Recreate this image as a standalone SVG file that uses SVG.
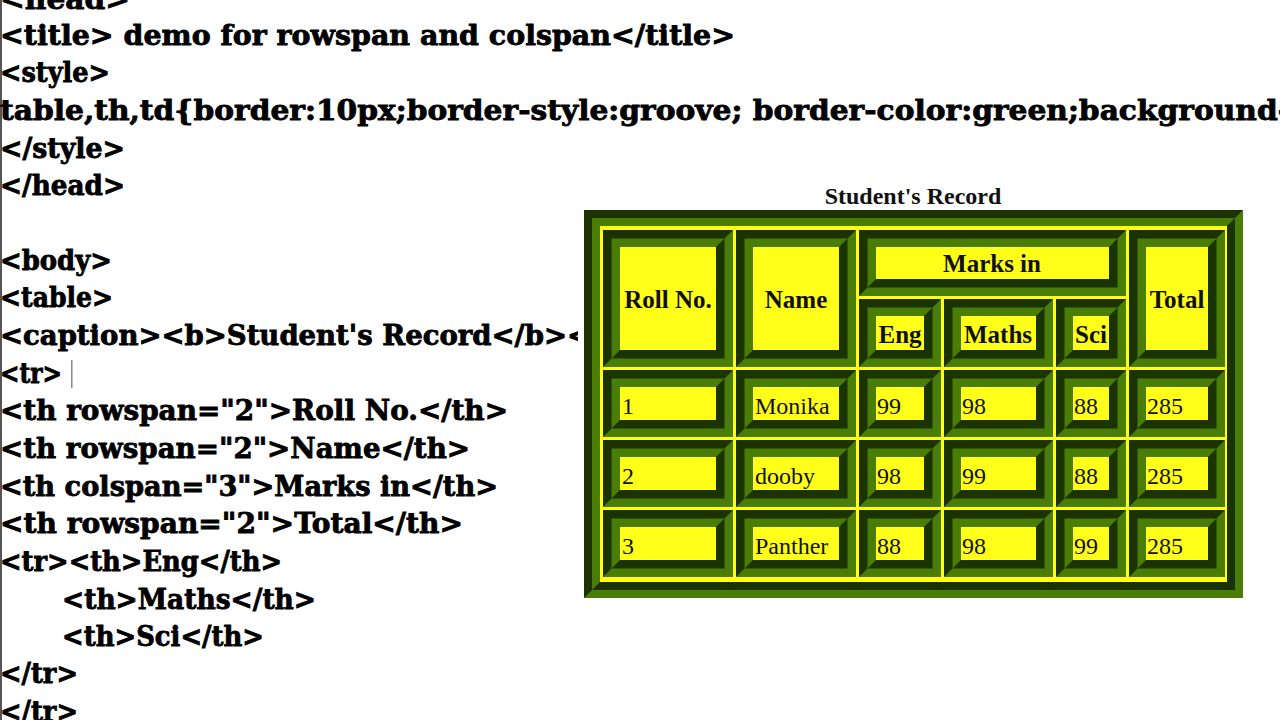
<svg xmlns="http://www.w3.org/2000/svg" width="1280" height="720" viewBox="0 0 1280 720">
<style>
.c{font-family:"DejaVu Serif","Liberation Serif",serif;font-weight:900;font-size:27px;fill:#000;stroke:#000;stroke-width:0.8px}
.h{font-family:"Liberation Serif",serif;font-weight:bold;font-size:25px;fill:#111}
.t{font-family:"Liberation Serif",serif;font-weight:bold;font-size:24px;fill:#111}
.d{font-family:"Liberation Serif",serif;font-size:24px;fill:#111}
.g{fill:#4a7d06}.k{fill:#1a3300}.y{fill:#ffff1a}
</style>
<rect width="1280" height="720" fill="#fff"/>
<rect x="0" y="0" width="2" height="720" fill="#555"/>
<g id="code">
<text class="c" x="0" y="9" textLength="130" lengthAdjust="spacingAndGlyphs">&lt;head&gt;</text>
<text class="c" x="0" y="45" textLength="735" lengthAdjust="spacingAndGlyphs">&lt;title&gt; demo for rowspan and colspan&lt;/title&gt;</text>
<text class="c" x="0" y="82" textLength="110" lengthAdjust="spacingAndGlyphs">&lt;style&gt;</text>
<text class="c" x="0" y="120" textLength="1290" lengthAdjust="spacingAndGlyphs">table,th,td{border:10px;border-style:groove; border-color:green;background-</text>
<text class="c" x="0" y="158" textLength="125" lengthAdjust="spacingAndGlyphs">&lt;/style&gt;</text>
<text class="c" x="0" y="195" textLength="125" lengthAdjust="spacingAndGlyphs">&lt;/head&gt;</text>
<text class="c" x="0" y="270" textLength="112" lengthAdjust="spacingAndGlyphs">&lt;body&gt;</text>
<text class="c" x="0" y="307" textLength="113" lengthAdjust="spacingAndGlyphs">&lt;table&gt;</text>
<text class="c" x="0" y="345" textLength="590" lengthAdjust="spacingAndGlyphs">&lt;caption&gt;&lt;b&gt;Student's Record&lt;/b&gt;&lt;</text>
<text class="c" x="0" y="383" textLength="62" lengthAdjust="spacingAndGlyphs">&lt;tr&gt;</text>
<rect x="71" y="360" width="1.5" height="28" fill="#888"/>
<text class="c" x="0" y="420" textLength="508" lengthAdjust="spacingAndGlyphs">&lt;th rowspan="2"&gt;Roll No.&lt;/th&gt;</text>
<text class="c" x="0" y="458" textLength="470" lengthAdjust="spacingAndGlyphs">&lt;th rowspan="2"&gt;Name&lt;/th&gt;</text>
<text class="c" x="0" y="496" textLength="498" lengthAdjust="spacingAndGlyphs">&lt;th colspan="3"&gt;Marks in&lt;/th&gt;</text>
<text class="c" x="0" y="533" textLength="463" lengthAdjust="spacingAndGlyphs">&lt;th rowspan="2"&gt;Total&lt;/th&gt;</text>
<text class="c" x="0" y="571" textLength="282" lengthAdjust="spacingAndGlyphs">&lt;tr&gt;&lt;th&gt;Eng&lt;/th&gt;</text>
<text class="c" x="62" y="609" textLength="254" lengthAdjust="spacingAndGlyphs">&lt;th&gt;Maths&lt;/th&gt;</text>
<text class="c" x="62" y="646" textLength="202" lengthAdjust="spacingAndGlyphs">&lt;th&gt;Sci&lt;/th&gt;</text>
<text class="c" x="0" y="683" textLength="78" lengthAdjust="spacingAndGlyphs">&lt;/tr&gt;</text>
<text class="c" x="0" y="721" textLength="78" lengthAdjust="spacingAndGlyphs">&lt;/tr&gt;</text>
</g>
<rect x="578" y="172" width="702" height="440" fill="#fff"/>
<text class="t" x="913" y="204" text-anchor="middle">Student's Record</text>
<g id="table">
<rect x="584" y="210" width="659" height="388" class="g"/>
<polygon class="k" points="584,210 1243,210 1235,218 592,218 592,590 584,598"/>
<polygon class="k" points="1235,218 1227,226 1227,582 600,582 592,590 1235,590"/>
<rect x="600" y="226" width="627" height="356" class="y"/>
</g>
<g id="header">
<g id="c-roll"><rect x="603" y="230" width="130" height="137" class="g"/><polygon class="k" points="603,230 733,230 724.5,238.5 611.5,238.5 611.5,358.5 603,367"/><polygon class="k" points="724.5,238.5 716,247 716,350 620,350 611.5,358.5 724.5,358.5"/><rect x="620" y="247" width="96" height="103" class="y"/><text class="h" x="668" y="308" text-anchor="middle">Roll No.</text></g>
<g id="c-name"><rect x="736" y="230" width="120" height="137" class="g"/><polygon class="k" points="736,230 856,230 847.5,238.5 744.5,238.5 744.5,358.5 736,367"/><polygon class="k" points="847.5,238.5 839,247 839,350 753,350 744.5,358.5 847.5,358.5"/><rect x="753" y="247" width="86" height="103" class="y"/><text class="h" x="796" y="308" text-anchor="middle">Name</text></g>
<g id="c-marks"><rect x="859" y="230" width="267" height="66" class="g"/><polygon class="k" points="859,230 1126,230 1117.5,238.5 867.5,238.5 867.5,287.5 859,296"/><polygon class="k" points="1117.5,238.5 1109,247 1109,279 876,279 867.5,287.5 1117.5,287.5"/><rect x="876" y="247" width="233" height="32" class="y"/><text class="h" x="992" y="272" text-anchor="middle">Marks in</text></g>
<g id="c-total"><rect x="1129" y="230" width="96" height="137" class="g"/><polygon class="k" points="1129,230 1225,230 1216.5,238.5 1137.5,238.5 1137.5,358.5 1129,367"/><polygon class="k" points="1216.5,238.5 1208,247 1208,350 1146,350 1137.5,358.5 1216.5,358.5"/><rect x="1146" y="247" width="62" height="103" class="y"/><text class="h" x="1177" y="308" text-anchor="middle">Total</text></g>
<g id="c-eng"><rect x="859" y="299" width="82" height="68" class="g"/><polygon class="k" points="859,299 941,299 932.5,307.5 867.5,307.5 867.5,358.5 859,367"/><polygon class="k" points="932.5,307.5 924,316 924,350 876,350 867.5,358.5 932.5,358.5"/><rect x="876" y="316" width="48" height="34" class="y"/><text class="h" x="900" y="343" text-anchor="middle">Eng</text></g>
<g id="c-maths"><rect x="944" y="299" width="109" height="68" class="g"/><polygon class="k" points="944,299 1053,299 1044.5,307.5 952.5,307.5 952.5,358.5 944,367"/><polygon class="k" points="1044.5,307.5 1036,316 1036,350 961,350 952.5,358.5 1044.5,358.5"/><rect x="961" y="316" width="75" height="34" class="y"/><text class="h" x="998" y="343" text-anchor="middle">Maths</text></g>
<g id="c-sci"><rect x="1056" y="299" width="70" height="68" class="g"/><polygon class="k" points="1056,299 1126,299 1117.5,307.5 1064.5,307.5 1064.5,358.5 1056,367"/><polygon class="k" points="1117.5,307.5 1109,316 1109,350 1073,350 1064.5,358.5 1117.5,358.5"/><rect x="1073" y="316" width="36" height="34" class="y"/><text class="h" x="1091" y="343" text-anchor="middle">Sci</text></g>
</g>
<defs>
<g id="row">
<rect x="603" y="0" width="130" height="67" class="g"/><polygon class="k" points="603,0 733,0 724.5,8.5 611.5,8.5 611.5,58.5 603,67"/><polygon class="k" points="724.5,8.5 716,17 716,50 620,50 611.5,58.5 724.5,58.5"/><rect x="620" y="17" width="96" height="33" class="y"/>
<rect x="736" y="0" width="120" height="67" class="g"/><polygon class="k" points="736,0 856,0 847.5,8.5 744.5,8.5 744.5,58.5 736,67"/><polygon class="k" points="847.5,8.5 839,17 839,50 753,50 744.5,58.5 847.5,58.5"/><rect x="753" y="17" width="86" height="33" class="y"/>
<rect x="859" y="0" width="82" height="67" class="g"/><polygon class="k" points="859,0 941,0 932.5,8.5 867.5,8.5 867.5,58.5 859,67"/><polygon class="k" points="932.5,8.5 924,17 924,50 876,50 867.5,58.5 932.5,58.5"/><rect x="876" y="17" width="48" height="33" class="y"/>
<rect x="944" y="0" width="109" height="67" class="g"/><polygon class="k" points="944,0 1053,0 1044.5,8.5 952.5,8.5 952.5,58.5 944,67"/><polygon class="k" points="1044.5,8.5 1036,17 1036,50 961,50 952.5,58.5 1044.5,58.5"/><rect x="961" y="17" width="75" height="33" class="y"/>
<rect x="1056" y="0" width="70" height="67" class="g"/><polygon class="k" points="1056,0 1126,0 1117.5,8.5 1064.5,8.5 1064.5,58.5 1056,67"/><polygon class="k" points="1117.5,8.5 1109,17 1109,50 1073,50 1064.5,58.5 1117.5,58.5"/><rect x="1073" y="17" width="36" height="33" class="y"/>
<rect x="1129" y="0" width="96" height="67" class="g"/><polygon class="k" points="1129,0 1225,0 1216.5,8.5 1137.5,8.5 1137.5,58.5 1129,67"/><polygon class="k" points="1216.5,8.5 1208,17 1208,50 1146,50 1137.5,58.5 1216.5,58.5"/><rect x="1146" y="17" width="62" height="33" class="y"/>
</g>
</defs>
<g id="row1"><use href="#row" y="370"/>
<text class="d" x="622" y="414">1</text><text class="d" x="755" y="414">Monika</text><text class="d" x="877" y="414">99</text><text class="d" x="962" y="414">98</text><text class="d" x="1074" y="414">88</text><text class="d" x="1147" y="414">285</text></g>
<g id="row2"><use href="#row" y="440"/>
<text class="d" x="622" y="484">2</text><text class="d" x="755" y="484">dooby</text><text class="d" x="877" y="484">98</text><text class="d" x="962" y="484">99</text><text class="d" x="1074" y="484">88</text><text class="d" x="1147" y="484">285</text></g>
<g id="row3"><use href="#row" y="510"/>
<text class="d" x="622" y="554">3</text><text class="d" x="755" y="554">Panther</text><text class="d" x="877" y="554">88</text><text class="d" x="962" y="554">98</text><text class="d" x="1074" y="554">99</text><text class="d" x="1147" y="554">285</text></g>
</svg>
